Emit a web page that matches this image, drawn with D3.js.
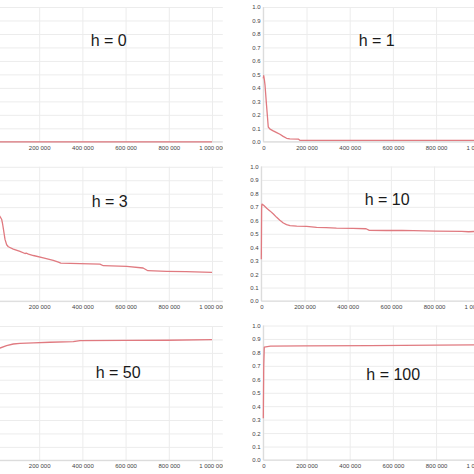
<!DOCTYPE html>
<html><head><meta charset="utf-8">
<script src="https://cdn.jsdelivr.net/npm/d3@7"></script>
<style>html,body{margin:0;padding:0;background:#fff;overflow:hidden}</style>
</head><body>
<svg id="c" width="474" height="474"></svg>
<script>
// ---- data ----
const xTicks = [0, 200000, 400000, 600000, 800000, 1000000];
const yTicks = [0, 0.1, 0.2, 0.3, 0.4, 0.5, 0.6, 0.7, 0.8, 0.9, 1.0];
const titles = ["h = 0", "h = 1", "h = 3", "h = 10", "h = 50", "h = 100"];

const seriesH0 = [[0, 0], [1000000, 0]];
const seriesH1 = [[0, 0.47], [2000, 0.49], [5000, 0.46], [8000, 0.42], [15000, 0.27], [23000, 0.11],
  [31000, 0.094], [46000, 0.081], [62000, 0.068], [77000, 0.056], [92000, 0.04], [108000, 0.026],
  [123000, 0.021], [162000, 0.02], [169000, 0.011], [250000, 0.01], [1000000, 0.01]];
const seriesH3 = [[0, 0.66], [10000, 0.645], [18500, 0.63], [26000, 0.61], [30000, 0.58], [34000, 0.54],
  [41700, 0.46], [49400, 0.42], [57000, 0.405], [80000, 0.388], [111000, 0.37], [134000, 0.355],
  [142000, 0.357], [150000, 0.35], [173000, 0.34], [219000, 0.322], [265000, 0.304], [289000, 0.29],
  [300000, 0.284], [389000, 0.279], [481000, 0.276], [497000, 0.264], [605000, 0.259], [681000, 0.247],
  [703000, 0.227], [790000, 0.222], [880000, 0.22], [1000000, 0.214]];
const seriesH10 = [[0, 0.31], [1500, 0.70], [3000, 0.72], [8000, 0.715], [12000, 0.71], [25000, 0.69],
  [40000, 0.67], [56000, 0.647], [71000, 0.622], [86000, 0.60], [102000, 0.58], [117000, 0.568],
  [133000, 0.56], [164000, 0.556], [210000, 0.555], [256000, 0.548], [300000, 0.545], [348000, 0.542],
  [424000, 0.54], [485000, 0.537], [500000, 0.525], [577000, 0.524], [653000, 0.525], [806000, 0.52],
  [928000, 0.517], [960000, 0.515], [1000000, 0.518]];
const seriesH50 = [[0, 0.82], [18500, 0.836], [49000, 0.854], [80000, 0.866], [111000, 0.871],
  [173000, 0.874], [250000, 0.879], [358000, 0.883], [389000, 0.891], [600000, 0.893],
  [790000, 0.894], [1000000, 0.898]];
const seriesH100 = [[0, 0.31], [2000, 0.70], [4600, 0.84], [33000, 0.847], [187000, 0.848],
  [495000, 0.851], [803000, 0.854], [1000000, 0.856]];

const allSeries = [seriesH0, seriesH1, seriesH3, seriesH10, seriesH50, seriesH100];

// ---- layout ----
const xMax = 1050000;
const pxPerMillion = 216;
const layout = [
  {x0: -4,    yTop: 7,     yBot: 141.8, clipL: 0,   clipR: 223, tdx: 94.7,  tdy: 39},
  {x0: 263.3, yTop: 7,     yBot: 141.8, clipL: 237, clipR: 474, tdx: 95.4,  tdy: 39},
  {x0: -4,    yTop: 166.8, yBot: 301.2, clipL: 0,   clipR: 223, tdx: 95.7,  tdy: 40},
  {x0: 261.3, yTop: 166.5, yBot: 301,   clipL: 237, clipR: 474, tdx: 103.4, tdy: 38.5},
  {x0: -4,    yTop: 326,   yBot: 460.3, clipL: 0,   clipR: 223, tdx: 99.7,  tdy: 51.5},
  {x0: 263.3, yTop: 325.5, yBot: 460,   clipL: 237, clipR: 474, tdx: 103,   tdy: 54.5}
];

const svg = d3.select("#c");
const fmtX = d3.formatLocale({decimal: ".", thousands: " ", grouping: [3], currency: ["", ""]}).format(",d");
const fmtY = d3.format(".1f");
const FONT = "'Liberation Sans', Arial, sans-serif";

layout.forEach((L, i) => {
  const x = d3.scaleLinear().domain([0, xMax]).range([L.x0, L.x0 + pxPerMillion * xMax / 1e6]);
  const y = d3.scaleLinear().domain([0, 1]).range([L.yBot, L.yTop]);
  const showYLabels = L.x0 > L.clipL + 10;   // panels whose y axis is cropped out show no y labels

  const clipId = "clip" + i;
  svg.append("clipPath").attr("id", clipId)
    .append("rect").attr("x", L.clipL).attr("y", L.yTop - 10)
    .attr("width", L.clipR - L.clipL).attr("height", L.yBot - L.yTop + 30);

  const g = svg.append("g").attr("clip-path", `url(#${clipId})`);

  // horizontal grid
  const gy = g.append("g").attr("transform", `translate(${L.x0},0)`)
    .call(d3.axisLeft(y).tickValues(yTicks).tickSize(-(x(xMax) - L.x0)).tickFormat(""));
  gy.select(".domain").remove();
  gy.selectAll("line").attr("stroke", "#ececec").attr("stroke-width", 1);

  // vertical grid
  const gx = g.append("g").attr("transform", `translate(0,${L.yBot})`)
    .call(d3.axisBottom(x).tickValues(xTicks).tickSize(-(L.yBot - L.yTop)).tickFormat(""));
  gx.select(".domain").remove();
  gx.selectAll("line").attr("stroke", "#ececec").attr("stroke-width", 1);

  // axis lines
  g.append("line").attr("x1", L.x0).attr("x2", x(xMax)).attr("y1", L.yBot).attr("y2", L.yBot)
    .attr("stroke", "#d8d8d8");
  g.append("line").attr("x1", L.x0).attr("x2", L.x0).attr("y1", L.yTop).attr("y2", L.yBot)
    .attr("stroke", "#d8d8d8");

  // x tick labels (only those whose position lies in the visible crop)
  const visibleX = xTicks.filter(t => x(t) >= L.clipL);
  const ax = g.append("g").attr("transform", `translate(0,${L.yBot})`)
    .call(d3.axisBottom(x).tickValues(visibleX).tickSize(0).tickPadding(3.5).tickFormat(fmtX));
  ax.select(".domain").remove();
  ax.selectAll("text").attr("font-family", FONT).attr("font-size", 6).attr("fill", "#444");

  // y tick labels
  if (showYLabels) {
    const ay = g.append("g").attr("transform", `translate(${L.x0},0)`)
      .call(d3.axisLeft(y).tickValues(yTicks).tickSize(0).tickPadding(2.6).tickFormat(fmtY));
    ay.select(".domain").remove();
    ay.selectAll("text").attr("font-family", FONT).attr("font-size", 6).attr("fill", "#444");
  }

  // series line
  const line = d3.line().x(d => x(d[0])).y(d => y(d[1]));
  g.append("path").datum(allSeries[i]).attr("d", line)
    .attr("fill", "none").attr("stroke", "#e07a80").attr("stroke-width", 1.3)
    .attr("stroke-linejoin", "round");

  // title
  g.append("text").attr("x", L.x0 + L.tdx).attr("y", L.yTop + L.tdy)
    .attr("font-family", FONT).attr("font-size", 16).attr("fill", "#1a1a1a")
    .text(titles[i]);
});
</script>
</body></html>
